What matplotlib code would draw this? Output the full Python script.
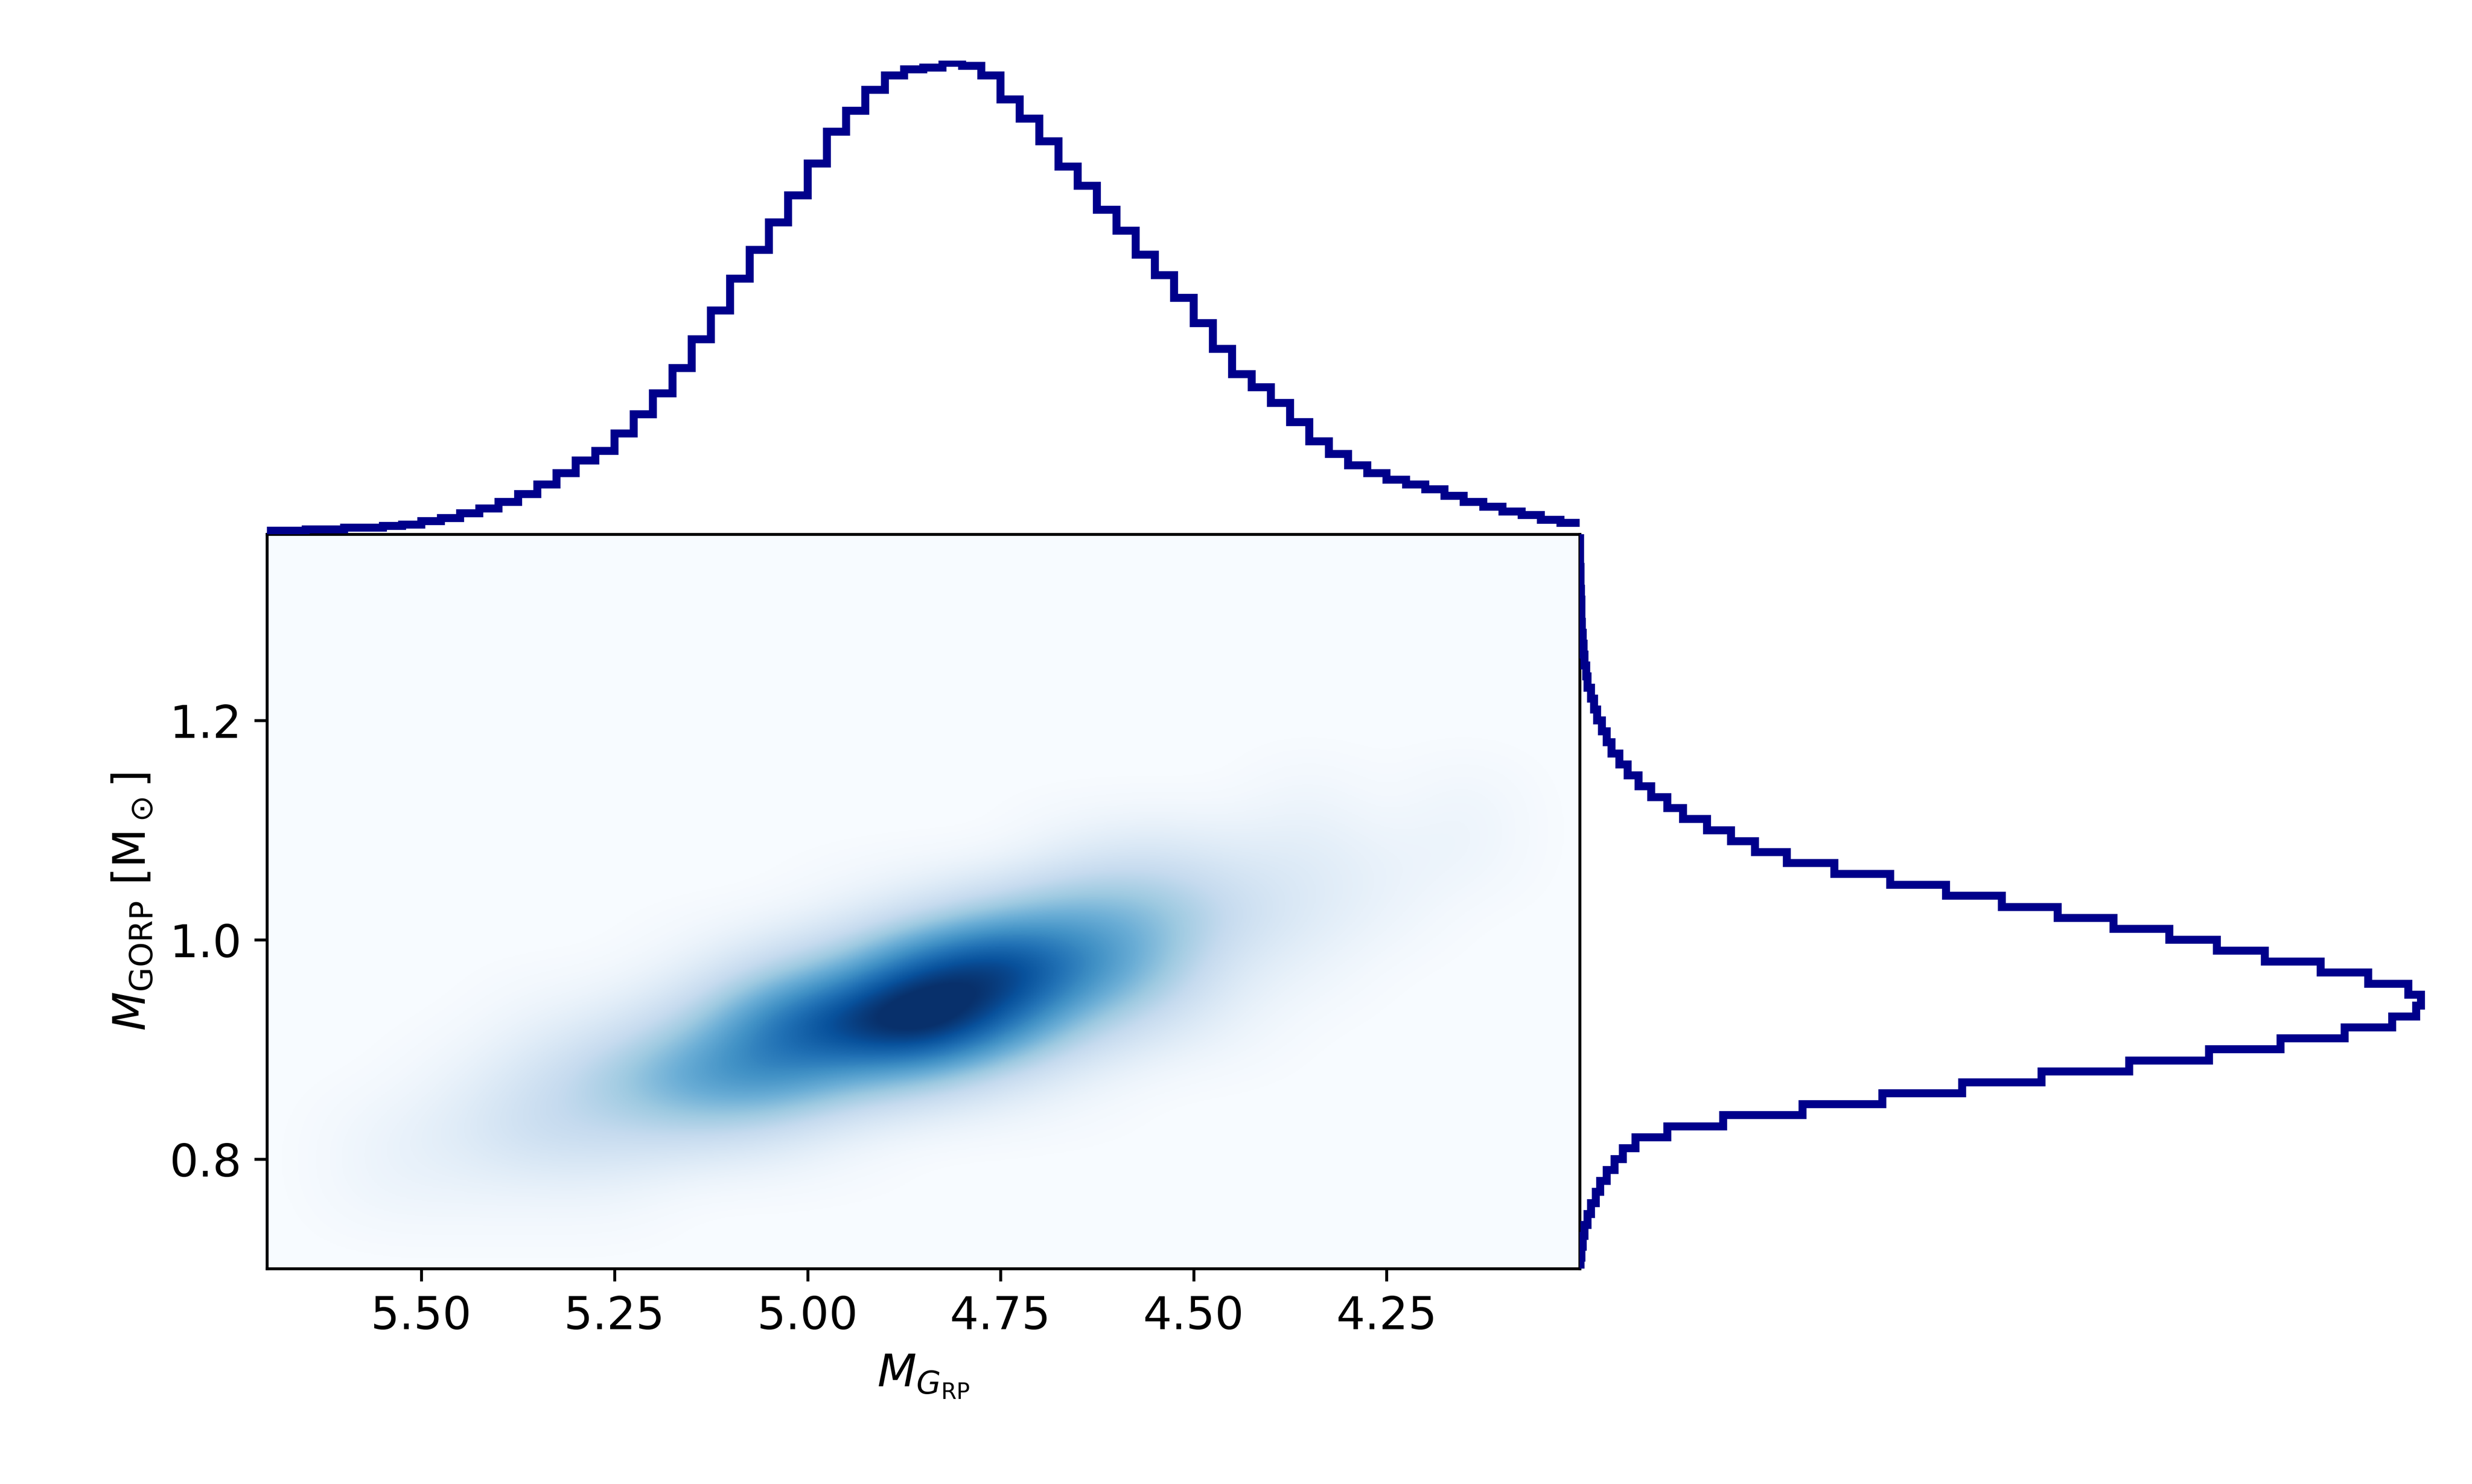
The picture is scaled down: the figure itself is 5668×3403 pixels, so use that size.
import matplotlib.pyplot as plt
import numpy as np

# top marginal: M_G_RP histogram, bins of 0.025 from 5.70 down to 4.00 (left to right)
mg_edges_desc = np.round(np.arange(5.70, 3.999, -0.025), 3)
mg_counts = [2, 2, 3, 3, 4, 4, 5, 6, 8, 10, 13, 16, 20, 25, 31, 38, 46, 52, 63, 75,
             88, 104, 122, 140, 160, 178, 195, 212, 232, 252, 265, 278, 287, 291, 292,
             295, 293, 287, 272, 260, 246, 230, 218, 203, 190, 175, 162, 148, 132, 116,
             100, 92, 82, 70, 58, 50, 43, 38, 34, 31, 28, 24, 20, 17, 14, 12, 9, 7]

# right marginal: mass histogram, bins of 0.01 from 0.70 to 1.38
mass_edges = np.round(np.arange(0.70, 1.3801, 0.01), 3)
mass_counts = [0.5, 1, 2, 3, 5, 7, 10, 13, 17, 22, 27, 35, 55, 90, 140, 190, 240, 290,
               345, 395, 440, 480, 510, 525, 528, 520, 495, 465, 430, 400, 370, 335,
               300, 265, 230, 195, 160, 130, 110, 95, 80, 65, 55, 45, 37, 30, 25, 20,
               17, 14, 11, 9, 7, 5, 4, 3, 2.5, 2, 1.5, 1.2, 1, 0.8, 0.6, 0.5, 0.4, 0.3,
               0.2, 0.1]

# 2D density, rows from y=0.725 upward (step 0.05), columns x=5.65 ... 4.05
density = np.array([
    [0, 0, 0, 0, 0, 0, 0, 0, 0, 0, 0, 0, 0, 0, 0, 0, 0],
    [0, 1, 1, 1, 1, 0, 0, 0, 0, 0, 0, 0, 0, 0, 0, 0, 0],
    [0, 1, 2, 4, 4, 4, 3, 1, 0, 0, 0, 0, 0, 0, 0, 0, 0],
    [0, 0, 1, 3, 6, 10, 11, 8, 6, 3, 1, 0, 0, 0, 0, 0, 0],
    [0, 0, 0, 1, 2, 5, 12, 17, 20, 13, 6, 3, 1, 0, 0, 0, 0],
    [0, 0, 0, 0, 0, 1, 4, 7, 14, 17, 12, 7, 2, 1, 0, 0, 0],
    [0, 0, 0, 0, 0, 0, 0, 1, 3, 6, 8, 7, 4, 2, 1, 0, 0],
    [0, 0, 0, 0, 0, 0, 0, 0, 0, 0, 2, 3, 2, 2, 1, 1, 0],
    [0, 0, 0, 0, 0, 0, 0, 0, 0, 0, 0, 0, 0, 1, 0, 1, 0],
    [0, 0, 0, 0, 0, 0, 0, 0, 0, 0, 0, 0, 0, 0, 0, 0, 0],
    [0, 0, 0, 0, 0, 0, 0, 0, 0, 0, 0, 0, 0, 0, 0, 0, 0],
    [0, 0, 0, 0, 0, 0, 0, 0, 0, 0, 0, 0, 0, 0, 0, 0, 0],
    [0, 0, 0, 0, 0, 0, 0, 0, 0, 0, 0, 0, 0, 0, 0, 0, 0],
    [0, 0, 0, 0, 0, 0, 0, 0, 0, 0, 0, 0, 0, 0, 0, 0, 0],
], dtype=float)

XLIM = (5.70, 4.00)
YLIM = (0.70, 1.37)
HIST_COLOR = "#00008B"

plt.rcParams["font.size"] = 12.5

fig = plt.figure(figsize=(9.447, 5.673), dpi=600)
ax = fig.add_axes([0.108, 0.145, 0.531, 0.495])
ax_top = fig.add_axes([0.108, 0.640, 0.531, 0.319])
ax_right = fig.add_axes([0.639, 0.145, 0.342, 0.495])

ax.imshow(density, origin="lower", extent=(5.70, 4.00, 0.70, 1.40), cmap="Blues",
          vmin=0, vmax=15, aspect="auto", interpolation="bicubic")
ax.set_xlim(*XLIM)
ax.set_ylim(*YLIM)
ax.set_xticks([5.50, 5.25, 5.00, 4.75, 4.50, 4.25])
ax.set_yticks([0.8, 1.0, 1.2])
ax.set_xlabel(r"$M_{G_{\rm RP}}$")
ax.set_ylabel(r"$M_{\rm GORP}$ [M$_\odot$]")

ax_top.stairs(mg_counts[::-1], mg_edges_desc[::-1], color=HIST_COLOR, linewidth=2.2,
              baseline=None)
ax_top.set_xlim(*XLIM)
ax_top.set_ylim(0, max(mg_counts) * 1.005)
ax_top.axis("off")

ax_right.stairs(mass_counts, mass_edges, orientation="horizontal", color=HIST_COLOR,
                linewidth=2.2, baseline=None)
ax_right.set_ylim(*YLIM)
ax_right.set_xlim(0, max(mass_counts) * 1.005)
ax_right.axis("off")

fig.savefig("out.png", dpi=600)
